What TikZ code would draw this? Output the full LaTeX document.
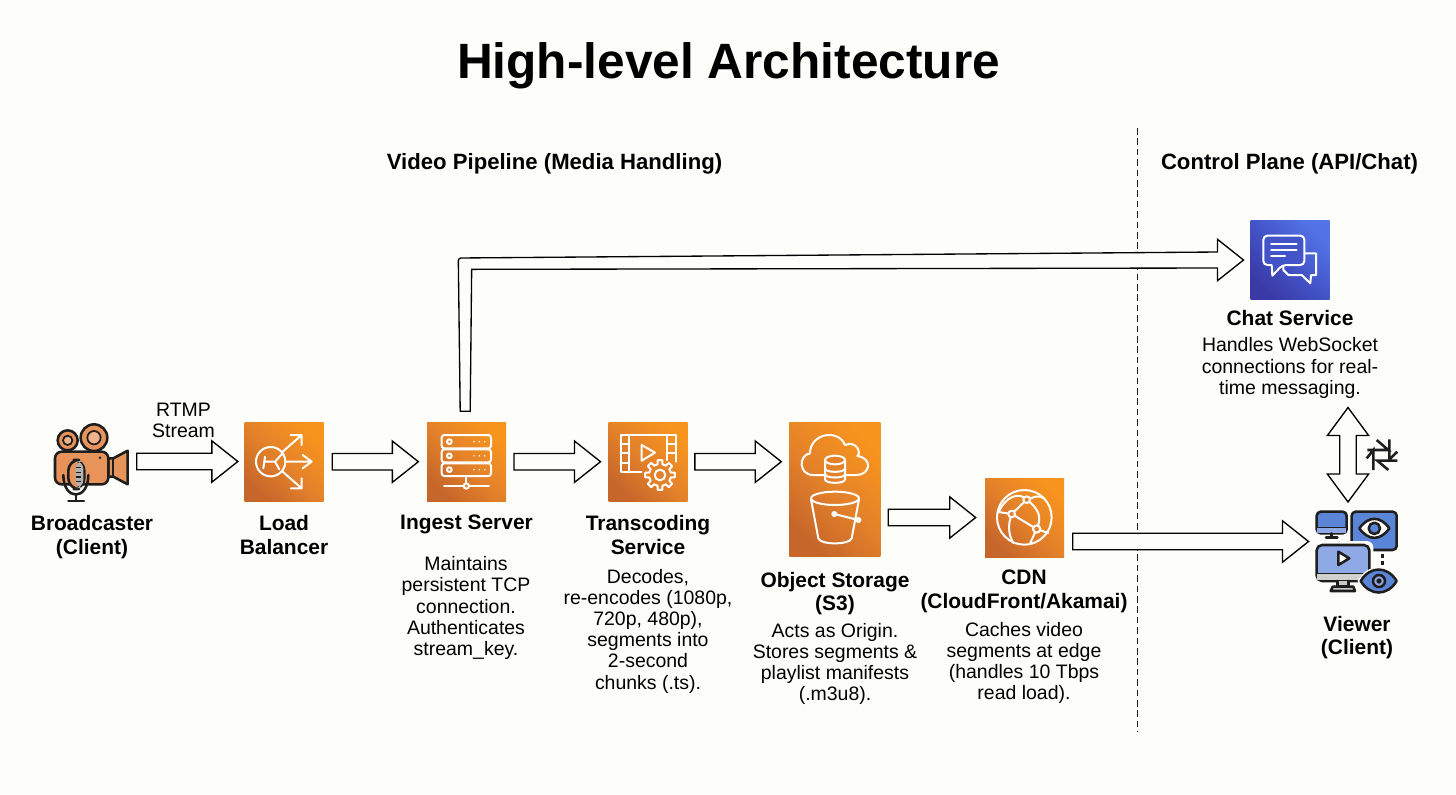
\documentclass[tikz,border=0pt]{standalone}
\usepackage{fontspec}
\setmainfont{Liberation Sans}
\usetikzlibrary{calc}
\definecolor{paper}{HTML}{FDFDFA}
\definecolor{orA}{HTML}{F7941E}
\definecolor{orB}{HTML}{E4822A}
\definecolor{orC}{HTML}{C7662A}
\definecolor{blA}{HTML}{5274E6}
\definecolor{blB}{HTML}{4354C8}
\definecolor{blC}{HTML}{3A3AA6}
\definecolor{camor}{HTML}{E8935A}
\definecolor{ink}{HTML}{1E1E1E}
\definecolor{vwA}{HTML}{5B85D6}
\definecolor{vwB}{HTML}{8FA8E6}
\tikzset{
  awsbox/.style={minimum width=59.25pt,minimum height=59.25pt,inner sep=0,outer sep=0,
    top color=orA,bottom color=orC,middle color=orB,shading angle=-45},
  chatbox/.style={minimum width=59.25pt,minimum height=59.25pt,inner sep=0,outer sep=0,
    top color=blA,bottom color=blC,middle color=blB,shading angle=-45},
  hollow/.style={minimum width=#1,inner sep=0,outer sep=0},
  fat/.style={draw=black,fill=paper,line width=1pt,line join=miter},
  head/.style={font=\fontsize{15.7}{17.5}\selectfont\bfseries,align=center,inner sep=0,text=black},
  body/.style={font=\fontsize{14.6}{15.9}\selectfont,align=center,inner sep=0,text=black},
  section/.style={font=\fontsize{16.6}{18}\selectfont\bfseries,inner sep=0,text=black},
  ico/.style={draw=white,line width=1.5pt,line cap=round,line join=round},
  dark/.style={draw=ink,line width=1.9pt,line cap=round,line join=round},
}
% fat arrow going right: from, to, gap at start, gap at end
\newcommand{\fatR}[4]{\draw[fat] let \p1=(#1),\p2=(#2) in
  (\x1+#3,\y1+6.2pt) -- (\x2-#4-19.5pt,\y1+6.2pt) -- (\x2-#4-19.5pt,\y1+15.5pt)
  -- (\x2-#4,\y1) -- (\x2-#4-19.5pt,\y1-15.5pt) -- (\x2-#4-19.5pt,\y1-6.2pt) -- (\x1+#3,\y1-6.2pt) -- cycle;}
\begin{document}
\begin{tikzpicture}[x=0.75pt,y=-0.75pt]
\useasboundingbox (0,0) rectangle (1456,794);
\fill[paper] (0,0) rectangle (1456,794);

% titles
\node[inner sep=0,font=\fontsize{37.2}{40}\selectfont\bfseries] (title) at (728.5,65.5) {High-level Architecture};
\node[section] (video) at (554.5,164) {Video Pipeline (Media Handling)};
\node[section] (control) at (1289.5,164) {Control Plane (API/Chat)};

% divider
\coordinate (divtop) at (1137,128);
\coordinate (divbot) at (1137,732);
\draw[ink,line width=0.75pt,dash pattern=on 5pt off 2.8pt] (divtop) -- (divbot);

% main nodes
\node[hollow=57pt,minimum height=60pt] (cam) at (92,461.5) {};
\node[awsbox] (lb) at (284,461.7) {};
\node[awsbox] (ingest) at (466.5,461.7) {};
\node[awsbox] (trans) at (648,461.7) {};
\node[awsbox,minimum width=68.25pt,minimum height=100.5pt] (store) at (834.8,489.7) {};
\node[awsbox] (cdn) at (1024.5,517.5) {};
\node[chatbox] (chat) at (1290,260) {};
\node[hollow=62pt,minimum height=62pt] (viewer) at (1356.5,551) {};

% labels
\node[font=\fontsize{14.6}{15.9}\selectfont,align=center,inner sep=0] (rtmp) at (183.5,420.5) {RTMP\\Stream};
\node[head] (camL) at (92,537) {Broadcaster\\(Client)};
\node[head] (lbL) at (284,535) {Load\\Balancer};
\node[head] (ingL) at (466.5,524) {Ingest Server};
\node[body] (ingB) at (466,608) {Maintains\\persistent TCP\\connection.\\Authenticates\\stream\_key.};
\node[head] (trL) at (648,535) {Transcoding\\Service};
\node[body] (trB) at (648,631) {Decodes,\\re-encodes (1080p,\\720p, 480p),\\segments into\\2-second\\chunks (.ts).};
\node[head] (stL) at (835,593.5) {Object Storage\\(S3)};
\node[body] (stB) at (835,664) {Acts as Origin.\\Stores segments \&\\playlist manifests\\(.m3u8).};
\node[head] (cdL) at (1024,591.5) {CDN\\(CloudFront/Akamai)};
\node[body] (cdB) at (1024,663) {Caches video\\segments at edge\\(handles 10 Tbps\\read load).};
\node[head] (chL) at (1290,318.5) {Chat Service};
\node[body] (chB) at (1290,368) {Handles WebSocket\\connections for real-\\time messaging.};
\node[head] (vwL) at (1357,637.5) {Viewer\\(Client)};

% connectors
\fatR{cam.east}{lb.west}{5pt}{5pt}
\fatR{lb.east}{ingest.west}{6.5pt}{6.5pt}
\fatR{ingest.east}{trans.west}{6pt}{6pt}
\fatR{trans.east}{store.west |- trans.east}{5.5pt}{6pt}
\fatR{store.east |- cdn.west}{cdn.west}{6pt}{7pt}
\coordinate (cdnout) at ($(cdn.east)+(0,24)$);
\coordinate (vwin) at ($(viewer.west)+(0,-10)$);
\fatR{cdnout}{vwin}{6.5pt}{5pt}

% bent arrow ingest -> chat
\coordinate (bentA) at ($(ingest.north)+(-1.5,-11)$);
\coordinate (bentB) at ($(chat.west)+(-7,0)$);
\draw[fat] let \p1=(bentA),\p2=(bentB) in
  (\x1-3.6pt,\y1) -- (\x1-5pt,\y2-1.5pt) [rounded corners=2pt] -- (\x1-5pt,\y2+1.5pt) [sharp corners] -- (\x2-19.5pt,\y2+6pt) -- (\x2-19.5pt,\y2+15.5pt) -- (\x2,\y2)
  -- (\x2-19.5pt,\y2-15.5pt) -- (\x2-19.5pt,\y2-6pt) -- (\x1+5pt,\y2-7pt) -- (\x1+3.9pt,\y1) -- cycle;

% double arrow chat <-> viewer
\coordinate (dblT) at ($(chB.south)+(58,9)$);
\coordinate (dblB) at ($(viewer.north)+(-8.5,-7.7)$);
\draw[fat] let \p1=(dblT),\p2=(dblB) in
  (\x1,\y1) -- (\x1+15.5pt,\y1-21pt) -- (\x1+6.2pt,\y1-21pt) -- (\x1+6.2pt,\y2+21pt) -- (\x1+15.5pt,\y2+21pt)
  -- (\x1,\y2) -- (\x1-15.5pt,\y2+21pt) -- (\x1-6.2pt,\y2+21pt) -- (\x1-6.2pt,\y1-21pt) -- (\x1-15.5pt,\y1-21pt) -- cycle;

%%% small exchange glyph
\begin{scope}[shift={(1020pt,-322.5pt)},x=0.25pt,y=-0.25pt]
  \draw[ink,line width=1.9pt,line cap=butt,line join=miter]
    (22,60) -- (85,60) -- (50,30)
    (88,28) -- (88,88) -- (112,65)
    (40,120) -- (40,60) -- (20,85)
    (112,92) -- (52,92) -- (85,120);
\end{scope}

%%% camera
\begin{scope}[shift={(33.75pt,-311.25pt)},x=0.25pt,y=-0.25pt]
  \draw[dark,fill=camor] (68,76) circle[radius=30];
  \draw[dark,fill=camor] (147,68) circle[radius=40];
  \draw[ink,line width=1.3pt,fill=camor!70!paper] (68,76) circle[radius=14];
  \draw[ink,line width=1.3pt,fill=camor!70!paper] (147,68) circle[radius=20];
  \draw[dark,fill=camor] (190,130) -- (205,130) -- (248,107) -- (248,208) -- (205,185) -- (190,185) -- cycle;
  \draw[ink,line width=1.3pt] (205,130) -- (205,185);
  \draw[dark,fill=camor,rounded corners=5pt] (30,110) rectangle (190,208);
  \fill[ink] (165,128) circle[radius=4];
  \draw[dark] (55,180) .. controls (55,258) and (130,258) .. (130,180);
  \draw[dark] (93,240) -- (93,258) (70,258) -- (117,258);
  \draw[dark,fill=camor,rounded corners=8pt] (70,135) rectangle (118,222);
  \fill[black!30!paper,rounded corners=6pt] (92,138) rectangle (115,219);
  \draw[ink,line width=0.9pt] (92,158) -- (108,158) (92,172) -- (108,172) (92,186) -- (108,186) (92,200) -- (108,200);
\end{scope}

%%% load balancer
\begin{scope}[shift={(22.5pt,-292.5pt)},x=0.25pt,y=-0.25pt]
  \draw[ico] (722,215) circle[radius=44];
  \draw[ico] (705,200) -- (700,235) (703,215) -- (735,215) -- (758,190) (735,215) -- (748,238);
  \draw[ico] (758,185) -- (815,135) (782,135) -- (815,135) -- (815,165);
  \draw[ico] (768,215) -- (845,215) (818,195) -- (845,215) -- (818,235);
  \draw[ico] (758,245) -- (815,295) (782,295) -- (815,295) -- (815,265);
\end{scope}

%%% ingest, transcoding, storage
\begin{scope}[shift={(315pt,-307.5pt)},x=0.25pt,y=-0.25pt]
  \foreach \ya/\yb in {75/115,118/157,160/198}{
    \draw[ico,rounded corners=2pt] (65,\ya) rectangle (213,\yb);
    \draw[ico] (88,{(\ya+\yb)/2}) circle[radius=7];
    \fill[white] (162,{(\ya+\yb)/2}) circle[radius=2.5] (178,{(\ya+\yb)/2}) circle[radius=2.5] (194,{(\ya+\yb)/2}) circle[radius=2.5];
  }
  \draw[ico] (139,198) -- (139,220) (72,228) -- (207,228);
  \draw[ico,fill=orB] (139,228) circle[radius=8];

  % film
  \draw[ico] (665,187) -- (602,187) -- (602,75) -- (767,75) -- (767,155);
  \draw[ico] (628,75) -- (628,187) (740,75) -- (740,150) (602,102) -- (628,102) (602,130) -- (628,130) (602,158) -- (628,158) (740,102) -- (767,102) (740,130) -- (767,130);
  \draw[ico] (665,105) -- (705,128) -- (665,152) -- cycle;
  \draw[ico,fill=orB] ({720+33*cos(-13)},{195+33*sin(-13)})
    \foreach \a in {0,45,...,315}{ -- ({720+33*cos(\a-13)},{195+33*sin(\a-13)}) -- ({720+45*cos(\a-9)},{195+45*sin(\a-9)}) -- ({720+45*cos(\a+9)},{195+45*sin(\a+9)}) -- ({720+33*cos(\a+13)},{195+33*sin(\a+13)}) } -- cycle;
  \draw[ico] (720,195) circle[radius=16];

  % cloud
  \draw[ico] (1215,195) -- (1180,195) .. controls (1135,195) and (1135,135) .. (1170,130)
     .. controls (1170,70) and (1255,55) .. (1275,105) .. controls (1310,90) and (1325,130) .. (1312,138)
     .. controls (1360,145) and (1350,195) .. (1310,195) -- (1278,195);
  \draw[ico,fill=orB] (1215,150) -- (1215,208) .. controls (1215,222) and (1275,222) .. (1275,208) -- (1275,150);
  \draw[ico,fill=orB] (1245,150) ellipse[x radius=30,y radius=13];
  \draw[ico] (1215,175) .. controls (1215,189) and (1275,189) .. (1275,175) (1215,192) .. controls (1215,206) and (1275,206) .. (1275,192);
  % bucket
  \draw[ico] (1245,265) ellipse[x radius=72,y radius=20];
  \draw[ico] (1173,268) -- (1195,385) .. controls (1200,405) and (1290,405) .. (1295,385) -- (1317,268);
  \draw[ico] (1243,312) -- (1315,330);
  \draw[ico] (1243,312) circle[radius=6];
  \draw[ico] (1315,330) circle[radius=6];
\end{scope}

%%% CDN
\begin{scope}[shift={(738.75pt,-358.5pt)},x=0.25pt,y=-0.25pt]
  \draw[ico] (118,118) circle[radius=82];
  \draw[ico] (125,65) .. controls (100,38) and (60,60) .. (42,100)
             (125,65) .. controls (145,58) and (160,50) .. (175,60)
             (125,65) -- (80,108) -- (155,153)
             (125,65) .. controls (165,95) and (170,120) .. (155,153)
             (80,108) -- (40,102)
             (80,108) .. controls (68,140) and (70,170) .. (85,195)
             (155,153) -- (135,197) (155,153) -- (190,165);
  \draw[ico,fill=orB] (125,65) circle[radius=10];
  \draw[ico,fill=orB] (80,108) circle[radius=10];
  \draw[ico,fill=orB] (155,153) circle[radius=11];
\end{scope}

%%% viewer
\begin{scope}[shift={(982.5pt,-378.75pt)},x=0.25pt,y=-0.25pt]
  \draw[dark,fill=vwA,rounded corners=3pt] (20,20) rectangle (110,85);
  \draw[ink,line width=1pt] (21,68) -- (109,68);
  \fill[vwB] (21.5,69) rectangle (108.5,83.5);
  \draw[dark] (65,85) -- (65,97) (48,97) -- (82,97);
  \draw[dark,fill=vwA,rounded corners=3pt] (125,20) rectangle (260,135);
  \draw[dark,fill=paper] (148,70) .. controls (175,32) and (211,32) .. (238,70) .. controls (211,108) and (175,108) .. (148,70) -- cycle;
  \draw[dark,fill=vwA] (193,70) circle[radius=17];
  \fill[paper,rounded corners=5pt] (8,108) rectangle (190,240);
  \draw[dark,fill=vwB,rounded corners=4pt] (20,120) rectangle (178,228);
  \fill[black!18!paper] (22,207) rectangle (176,226);
  \draw[ink,line width=1pt] (21,205) -- (177,205);
  \draw[dark,fill=black!20!paper] (82,228) -- (82,245) -- (115,245) -- (115,228);
  \draw[dark,fill=black!20!paper] (62,258) -- (68,245) -- (130,245) -- (135,258) -- cycle;
  \draw[dark,fill=paper] (85,140) -- (118,160) -- (85,180) -- cycle;
  \draw[ink,line width=2pt,dash pattern=on 3pt off 2.5pt] (217,147) -- (217,190);
  \draw[paper,line width=4pt,fill=paper] (152,228) .. controls (180,182) and (232,182) .. (260,228) .. controls (232,274) and (180,274) .. (152,228) -- cycle;
  \draw[dark,fill=vwA] (152,228) .. controls (180,182) and (232,182) .. (260,228) .. controls (232,274) and (180,274) .. (152,228) -- cycle;
  \draw[dark,fill=vwB] (207,228) circle[radius=18];
  \fill[ink] (207,228) circle[radius=8];
\end{scope}

%%% chat icon
\begin{scope}[shift={(900pt,-150pt)},x=0.25pt,y=-0.25pt]
  \draw[ico] (275,160) -- (348,160) -- (348,225) -- (333,225) -- (331,250) -- (305,225) -- (265,225) -- (250,210) -- (250,195);
  \draw[ico,fill=blB,rounded corners=3pt] (190,107) -- (313,107) -- (313,195) -- (247,195) [sharp corners] -- (217,227) -- (215,195) [rounded corners=3pt] -- (190,195) -- cycle;
  \draw[ico] (213,133) -- (290,133) (213,150) -- (290,150) (213,167) -- (255,167);
\end{scope}
\end{tikzpicture}
\end{document}
